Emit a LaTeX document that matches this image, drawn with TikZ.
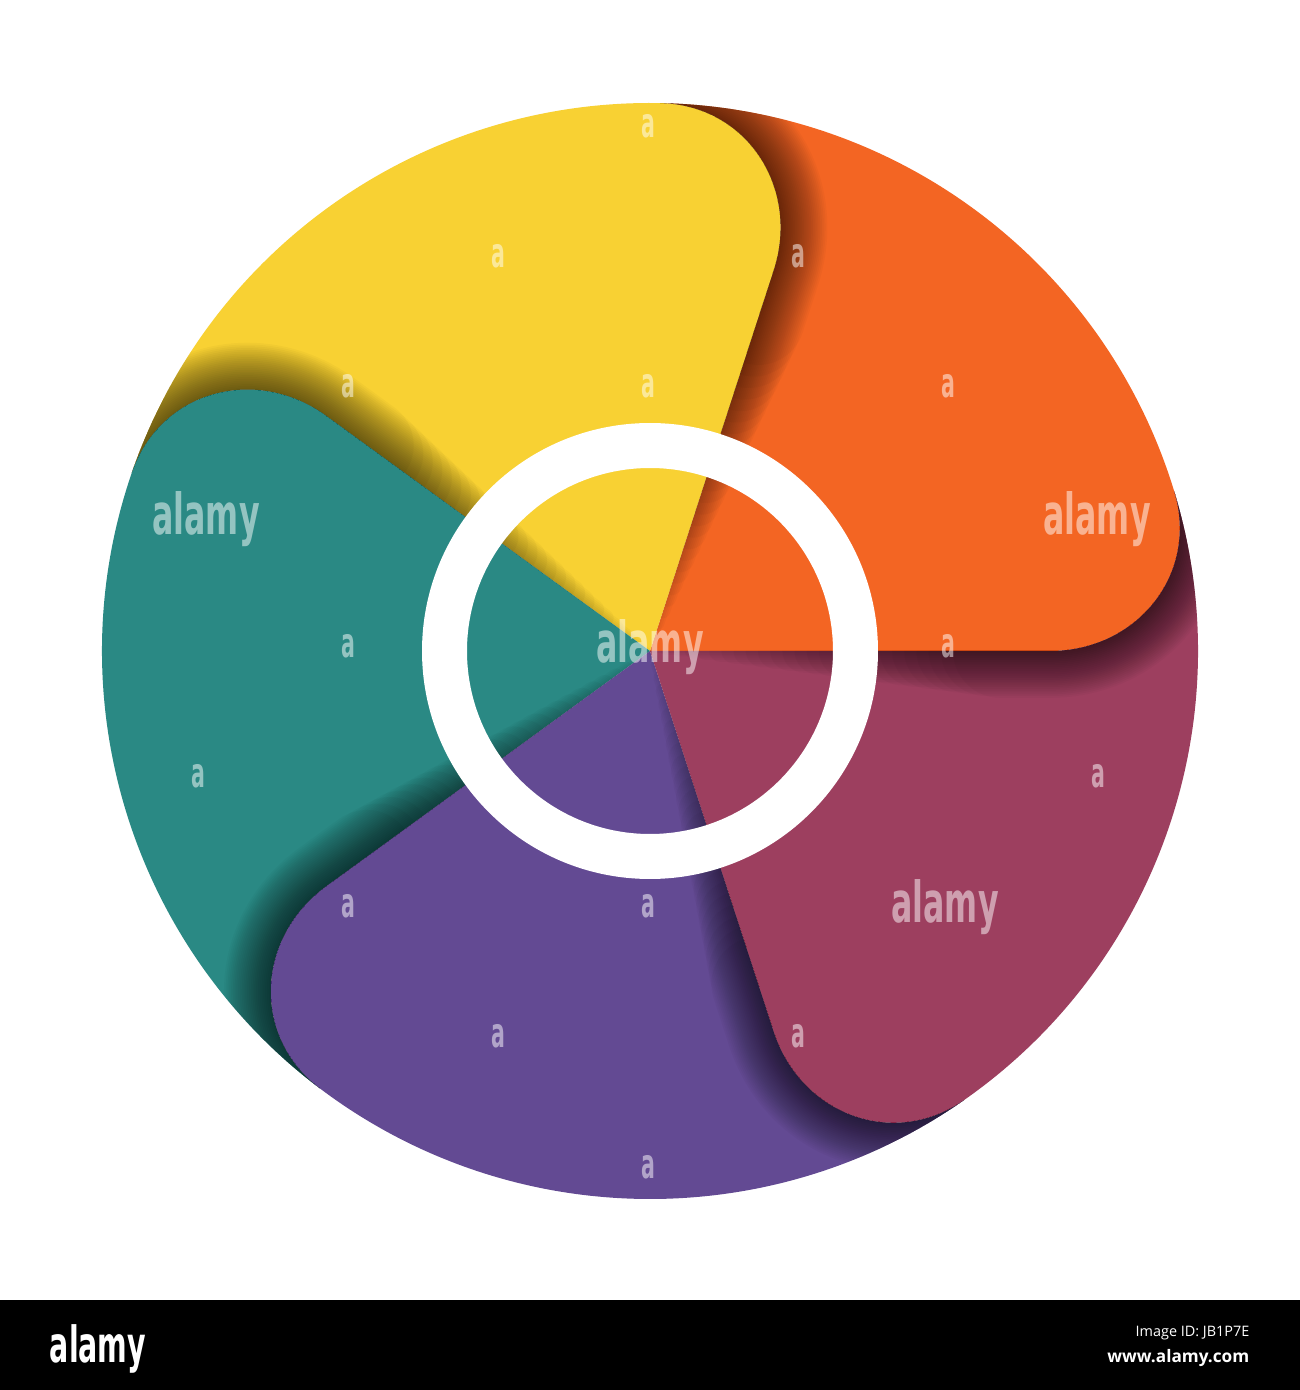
\documentclass[tikz,border=0pt]{standalone}
\usepackage{fontspec}
\newfontfamily\wmfont{DejaVu Sans}
\newfontfamily\idfont{Open Sans}
\definecolor{cyel}{HTML}{F8D133}
\definecolor{corg}{HTML}{F36523}
\definecolor{cmar}{HTML}{9D3F5F}
\definecolor{cpur}{HTML}{634A93}
\definecolor{ctea}{HTML}{2A8984}
\def\R{5.48}
\def\rz{4.0}
\def\dd{17}
\def\hh{0.87}
\def\piecepath{(0,0) -- (0:\rz) .. controls +(0:\hh) and +(\dd-90:\hh) .. (\dd:\R) arc[start angle=\dd, end angle=72+\dd, radius=\R] .. controls +(72+\dd-90:\hh) and +(72:\hh) .. (72:\rz) -- cycle}
\newcommand\edgepath[1]{(72:#1) -- (72:\rz) .. controls +(72:\hh) and +(72+\dd-90:\hh) .. (72+\dd:\R)}
\tikzset{
  wmbig/.style={text=white, text opacity=0.5, inner sep=0, anchor=base},
  wmsmall/.style={text=white, text opacity=0.5, inner sep=0, anchor=base},
  shadowstroke/.style={black, opacity=0.026, line cap=round, line join=round}
}
\newcommand\bigalamy{\wmfont\bfseries\scalebox{0.56}[1]{\fontsize{16.1}{18}\selectfont alamy}}
\newcommand\smalla{\wmfont\bfseries\scalebox{0.5}[1]{\fontsize{11.7}{14}\selectfont a}}
\begin{document}
\begin{tikzpicture}
\useasboundingbox (0,0) rectangle (13,13.9);
\fill[white] (0,0) rectangle (13,13.9);
% pieces
\foreach \rot/\col in {0/corg, 72/cyel, 144/ctea, 216/cpur, 288/cmar}{
  \begin{scope}[shift={(6.5,7.39)}, rotate=\rot]
    \fill[\col] \piecepath;
  \end{scope}
}
% shadows cast by the piece lying on top
\foreach \rot in {0,72,144,216,288}{
  \begin{scope}[shift={(6.5,7.39)}, rotate=\rot]
    \clip \piecepath;
    \foreach \i in {1,...,26}{
      \pgfmathsetmacro\ww{0.036*\i}
      \pgfmathsetmacro\ss{0.14*(\i-1)}
      \draw[shadowstroke, line width=\ww cm] \edgepath{\ss};
    }
  \end{scope}
}
% central ring
\fill[white, even odd rule] (6.5,7.39) circle (2.28) (6.5,7.39) circle (1.83);
\node[coordinate] (ringc) at (6.5,7.39) {};
% watermarks
\node[wmbig] (w1) at (2.06,8.55) {\bigalamy};
\node[wmbig] (w2) at (10.97,8.55) {\bigalamy};
\node[wmbig] (w3) at (6.50,7.27) {\bigalamy};
\node[wmbig] (w4) at (9.45,4.67) {\bigalamy};
\node[wmsmall] (a1) at (6.48,12.52) {\smalla};
\node[wmsmall] (a2) at (4.98,11.22) {\smalla};
\node[wmsmall] (a3) at (7.98,11.22) {\smalla};
\node[wmsmall] (a4) at (3.48,9.92) {\smalla};
\node[wmsmall] (a5) at (6.48,9.92) {\smalla};
\node[wmsmall] (a6) at (9.48,9.92) {\smalla};
\node[wmsmall] (a7) at (3.48,7.32) {\smalla};
\node[wmsmall] (a8) at (9.48,7.32) {\smalla};
\node[wmsmall] (a9) at (1.98,6.02) {\smalla};
\node[wmsmall] (a10) at (10.98,6.02) {\smalla};
\node[wmsmall] (a11) at (3.48,4.72) {\smalla};
\node[wmsmall] (a12) at (6.48,4.72) {\smalla};
\node[wmsmall] (a13) at (4.98,3.42) {\smalla};
\node[wmsmall] (a14) at (7.98,3.42) {\smalla};
\node[wmsmall] (a15) at (6.48,2.12) {\smalla};
% bottom bar
\fill[black] (0,0) rectangle (13,0.9);
\node[anchor=base, text=white, inner sep=0] (logo) at (0.98,0.27) {\wmfont\bfseries\scalebox{0.57}[1]{\fontsize{14.2}{16}\selectfont alamy}};
\node[anchor=base east, text=white, inner sep=0] (imgid) at (12.5,0.53) {\idfont\fontsize{4.1}{5}\selectfont Image ID: JB1P7E};
\node[anchor=base east, text=white, inner sep=0] (url) at (12.5,0.28) {\idfont\bfseries\fontsize{4.9}{6}\selectfont www.alamy.com};
\end{tikzpicture}
\end{document}
